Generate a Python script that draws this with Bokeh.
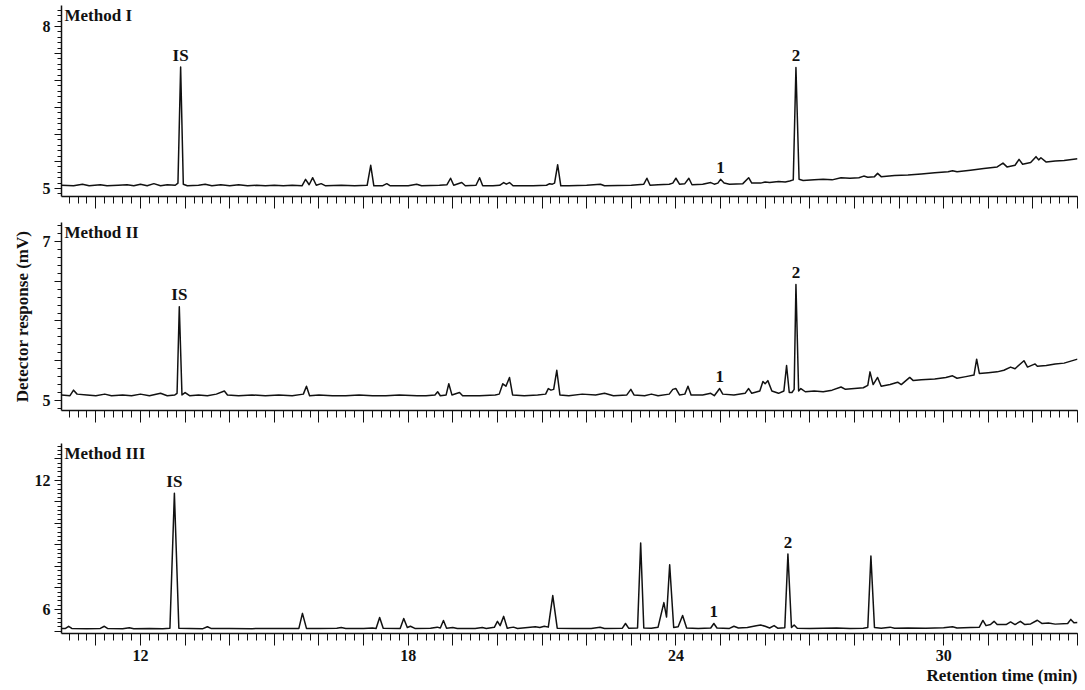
import math
import numpy as np
from bokeh.plotting import figure
from bokeh.layouts import column
from bokeh.models import Range1d, FixedTicker, Label, ColumnDataSource, Title
from bokeh.core.properties import value
from bokeh.embed import file_html
from bokeh.resources import INLINE

# ---------------- data ----------------
method_names = ["Method I", "Method II", "Method III"]
x_label_ticks = [12, 18, 24, 30]
y_label_ticks = [[5, 8], [5, 7], [6, 12]]
peak_names = ["IS", "1", "2"]
peak_rt_1 = [12.90, 25.00, 26.69]
peak_rt_2 = [12.87, 24.98, 26.69]
peak_rt_3 = [12.76, 24.85, 26.51]

trace_1 = [
    (10.23, 5.06), (10.5, 5.05), (10.7, 5.08), (10.85, 5.05), (11.1, 5.07), (11.25, 5.05),
    (11.5, 5.06), (11.7, 5.07), (11.85, 5.05), (12.0, 5.08), (12.15, 5.05), (12.3, 5.09),
    (12.45, 5.05), (12.6, 5.07), (12.78, 5.06), (12.84, 5.10), (12.90, 7.25), (12.96, 5.08),
    (13.05, 5.05), (13.3, 5.06), (13.45, 5.08), (13.6, 5.05), (13.8, 5.07), (14.0, 5.05),
    (14.2, 5.07), (14.4, 5.05), (14.6, 5.06), (14.8, 5.05), (15.0, 5.06), (15.2, 5.05),
    (15.4, 5.06), (15.62, 5.05), (15.70, 5.17), (15.78, 5.07), (15.86, 5.20), (15.94, 5.06),
    (16.05, 5.09), (16.15, 5.05), (16.5, 5.06), (16.8, 5.05), (17.08, 5.06), (17.16, 5.43),
    (17.23, 5.05), (17.42, 5.05), (17.52, 5.09), (17.6, 5.05), (18.0, 5.05), (18.19, 5.08),
    (18.3, 5.05), (18.7, 5.06), (18.87, 5.07), (18.95, 5.19), (19.02, 5.06), (19.20, 5.11),
    (19.28, 5.05), (19.52, 5.06), (19.60, 5.20), (19.67, 5.05), (19.9, 5.05), (20.05, 5.06),
    (20.14, 5.11), (20.20, 5.08), (20.27, 5.11), (20.35, 5.05), (20.8, 5.05), (21.1, 5.06),
    (21.17, 5.09), (21.23, 5.08), (21.28, 5.10), (21.35, 5.44), (21.42, 5.05), (21.6, 5.05),
    (22.0, 5.06), (22.31, 5.08), (22.4, 5.05), (23.0, 5.06), (23.28, 5.08), (23.35, 5.19),
    (23.42, 5.06), (23.6, 5.07), (23.85, 5.08), (23.93, 5.10), (24.0, 5.19), (24.08, 5.08),
    (24.2, 5.09), (24.29, 5.19), (24.36, 5.07), (24.6, 5.08), (24.78, 5.11), (24.86, 5.08),
    (24.94, 5.10), (25.0, 5.17), (25.08, 5.10), (25.2, 5.08), (25.5, 5.09), (25.63, 5.20),
    (25.7, 5.10), (25.9, 5.10), (26.0, 5.12), (26.1, 5.11), (26.3, 5.13), (26.45, 5.12),
    (26.55, 5.14), (26.63, 5.16), (26.69, 7.24), (26.76, 5.17), (26.85, 5.15), (27.1, 5.16),
    (27.3, 5.17), (27.5, 5.16), (27.7, 5.20), (27.9, 5.19), (28.1, 5.20), (28.21, 5.23),
    (28.3, 5.21), (28.45, 5.22), (28.52, 5.28), (28.6, 5.22), (28.9, 5.24), (29.2, 5.25),
    (29.5, 5.27), (29.8, 5.29), (30.1, 5.31), (30.2, 5.33), (30.3, 5.31), (30.6, 5.34),
    (30.9, 5.37), (31.2, 5.40), (31.33, 5.47), (31.42, 5.40), (31.6, 5.43), (31.69, 5.54),
    (31.77, 5.45), (31.95, 5.48), (32.07, 5.59), (32.13, 5.53), (32.18, 5.57), (32.3, 5.49),
    (32.5, 5.51), (32.7, 5.52), (33.0, 5.55),
]

trace_2 = [
    (10.23, 5.07), (10.42, 5.06), (10.50, 5.13), (10.58, 5.08), (10.8, 5.07), (11.0, 5.06),
    (11.2, 5.08), (11.35, 5.06), (11.6, 5.07), (11.8, 5.06), (12.0, 5.08), (12.2, 5.06),
    (12.45, 5.09), (12.6, 5.06), (12.77, 5.07), (12.82, 5.09), (12.87, 6.18), (12.93, 5.07),
    (13.0, 5.10), (13.1, 5.06), (13.3, 5.07), (13.5, 5.06), (13.7, 5.08), (13.88, 5.12),
    (13.95, 5.07), (14.2, 5.06), (14.5, 5.07), (14.8, 5.06), (15.1, 5.07), (15.4, 5.06),
    (15.65, 5.08), (15.72, 5.18), (15.79, 5.06), (16.0, 5.07), (16.3, 5.06), (16.6, 5.06),
    (16.9, 5.07), (17.2, 5.06), (17.5, 5.06), (17.8, 5.07), (18.2, 5.06), (18.4, 5.06),
    (18.6, 5.07), (18.66, 5.11), (18.72, 5.06), (18.85, 5.07), (18.91, 5.21), (18.98, 5.07),
    (19.15, 5.10), (19.22, 5.06), (19.6, 5.06), (19.95, 5.07), (20.04, 5.08), (20.12, 5.21),
    (20.19, 5.18), (20.27, 5.29), (20.34, 5.07), (20.6, 5.06), (20.9, 5.07), (21.08, 5.08),
    (21.14, 5.15), (21.20, 5.13), (21.26, 5.14), (21.33, 5.38), (21.40, 5.07), (21.6, 5.06),
    (21.9, 5.08), (22.2, 5.07), (22.4, 5.09), (22.6, 5.06), (22.9, 5.07), (22.99, 5.14),
    (23.06, 5.07), (23.3, 5.06), (23.45, 5.08), (23.6, 5.06), (23.85, 5.08), (23.93, 5.14),
    (24.0, 5.15), (24.08, 5.07), (24.2, 5.08), (24.27, 5.18), (24.34, 5.07), (24.6, 5.07),
    (24.78, 5.09), (24.86, 5.06), (24.98, 5.15), (25.05, 5.08), (25.3, 5.07), (25.55, 5.09),
    (25.63, 5.15), (25.70, 5.09), (25.88, 5.12), (25.95, 5.24), (26.0, 5.21), (26.06, 5.25),
    (26.15, 5.12), (26.3, 5.09), (26.42, 5.12), (26.48, 5.44), (26.54, 5.10), (26.60, 5.10),
    (26.65, 5.14), (26.69, 6.46), (26.75, 5.12), (26.80, 5.15), (26.9, 5.11), (27.1, 5.12),
    (27.3, 5.11), (27.5, 5.13), (27.7, 5.17), (27.8, 5.14), (28.0, 5.15), (28.2, 5.16),
    (28.3, 5.19), (28.35, 5.36), (28.42, 5.20), (28.52, 5.29), (28.6, 5.18), (28.8, 5.20),
    (28.97, 5.23), (29.05, 5.20), (29.24, 5.29), (29.32, 5.25), (29.5, 5.26), (29.8, 5.27),
    (30.05, 5.29), (30.2, 5.31), (30.3, 5.28), (30.5, 5.30), (30.68, 5.32), (30.74, 5.52),
    (30.80, 5.34), (31.0, 5.35), (31.2, 5.36), (31.35, 5.38), (31.5, 5.42), (31.6, 5.40),
    (31.8, 5.50), (31.88, 5.42), (32.05, 5.46), (32.1, 5.43), (32.3, 5.44), (32.5, 5.46),
    (32.7, 5.47), (33.0, 5.52),
]

trace_3 = [
    (10.23, 5.12), (10.32, 5.12), (10.39, 5.22), (10.46, 5.12), (10.8, 5.11), (11.1, 5.12),
    (11.19, 5.22), (11.26, 5.12), (11.6, 5.11), (11.75, 5.15), (11.85, 5.11), (12.2, 5.12),
    (12.5, 5.11), (12.66, 5.13), (12.76, 11.41), (12.86, 5.13), (13.1, 5.12), (13.4, 5.11),
    (13.5, 5.20), (13.58, 5.12), (14.0, 5.12), (14.5, 5.11), (15.0, 5.12), (15.55, 5.12),
    (15.63, 5.82), (15.72, 5.12), (16.0, 5.12), (16.4, 5.13), (16.5, 5.16), (16.6, 5.12),
    (17.0, 5.12), (17.2, 5.14), (17.28, 5.12), (17.36, 5.63), (17.44, 5.13), (17.82, 5.12),
    (17.90, 5.58), (17.98, 5.16), (18.05, 5.22), (18.15, 5.12), (18.5, 5.13), (18.65, 5.18),
    (18.72, 5.14), (18.79, 5.49), (18.86, 5.13), (19.0, 5.16), (19.1, 5.12), (19.5, 5.12),
    (19.66, 5.16), (19.75, 5.12), (19.93, 5.17), (20.0, 5.45), (20.06, 5.25), (20.14, 5.68),
    (20.22, 5.13), (20.36, 5.18), (20.45, 5.12), (20.85, 5.20), (20.95, 5.16), (21.05, 5.22),
    (21.14, 5.18), (21.24, 6.65), (21.34, 5.13), (21.7, 5.12), (22.1, 5.12), (22.3, 5.17),
    (22.4, 5.12), (22.8, 5.13), (22.87, 5.35), (22.94, 5.13), (23.14, 5.14), (23.21, 9.09),
    (23.28, 5.14), (23.45, 5.13), (23.6, 5.18), (23.73, 6.32), (23.79, 5.65), (23.86, 8.08),
    (23.95, 5.16), (24.05, 5.20), (24.15, 5.72), (24.24, 5.14), (24.5, 5.12), (24.78, 5.14),
    (24.85, 5.35), (24.92, 5.14), (25.2, 5.12), (25.3, 5.22), (25.4, 5.14), (25.6, 5.16),
    (25.8, 5.24), (25.9, 5.28), (26.0, 5.22), (26.1, 5.14), (26.2, 5.25), (26.28, 5.13),
    (26.44, 5.15), (26.51, 8.58), (26.59, 5.16), (26.65, 5.28), (26.72, 5.13), (27.0, 5.12),
    (27.3, 5.13), (27.6, 5.14), (27.9, 5.12), (28.2, 5.13), (28.30, 5.16), (28.37, 8.49),
    (28.45, 5.16), (28.6, 5.13), (28.8, 5.18), (28.9, 5.13), (29.2, 5.14), (29.6, 5.13),
    (30.0, 5.15), (30.2, 5.20), (30.3, 5.14), (30.6, 5.16), (30.8, 5.18), (30.88, 5.49),
    (30.95, 5.25), (31.05, 5.30), (31.13, 5.45), (31.2, 5.30), (31.4, 5.30), (31.5, 5.42),
    (31.6, 5.30), (31.72, 5.45), (31.82, 5.30), (31.95, 5.33), (32.1, 5.50), (32.2, 5.35),
    (32.35, 5.37), (32.5, 5.32), (32.78, 5.35), (32.85, 5.54), (32.92, 5.38), (33.0, 5.40),
]

# ---------------- layout / style ----------------
FONT = "Liberation Serif"
X_START, X_END = 10.23, 33.0
WIDTH = 1081
BORDER_LEFT = 61
BORDER_RIGHT = 4
INK = "#111111"

x_major = list(range(11, 34))
x_minor = [round(0.2 * k, 1) for k in range(52, 166)]


def tick_list(lo, hi, step):
    k0 = math.ceil(lo / step - 1e-9)
    k1 = math.floor(hi / step + 1e-9)
    return [round(k * step, 2) for k in range(k0, k1 + 1)]


def make_panel(trace, peak_rt, name, label_ticks, yr, y_major_step, y_minor_step,
               height, btop, bbot, show_x_labels=False, y_title=None):
    p = figure(width=WIDTH, height=height, x_range=Range1d(X_START, X_END),
               y_range=Range1d(*yr), output_backend="svg", toolbar_location=None,
               min_border_left=BORDER_LEFT, min_border_right=BORDER_RIGHT,
               min_border_top=btop, min_border_bottom=bbot)
    p.outline_line_color = None
    p.grid.visible = False
    p.background_fill_color = "white"
    p.border_fill_color = "white"

    ts = [a for a, b in trace]
    vs = [b for a, b in trace]
    p.line(ts, vs, line_color=INK, line_width=1.5, line_join="round")

    # peak labels, placed above each peak apex
    apex = list(np.interp(peak_rt, ts, vs))
    src = ColumnDataSource(dict(x=peak_rt, y=apex, t=peak_names))
    p.text(x="x", y="y", text="t", source=src, text_font=value(FONT),
           text_font_style="bold", text_font_size="17px", text_align="center",
           text_baseline="middle", y_offset=-12, text_color=INK)

    p.add_layout(Label(x=X_START, y=yr[1], text=name, x_offset=3,
                       text_font=FONT, text_font_style="bold", text_font_size="17px",
                       text_baseline="top", text_align="left", text_color=INK))

    # x axis
    xa = p.xaxis[0]
    xa.ticker = FixedTicker(ticks=x_major, minor_ticks=x_minor)
    xa.axis_line_color = INK
    xa.axis_line_width = 1.5
    xa.major_tick_line_color = INK
    xa.minor_tick_line_color = INK
    xa.major_tick_in = 0
    xa.major_tick_out = 12
    xa.minor_tick_in = 0
    xa.minor_tick_out = 7
    xa.major_label_text_font = FONT
    xa.major_label_text_font_style = "bold"
    xa.major_label_text_color = INK
    if show_x_labels:
        xa.major_label_overrides = {t: (str(t) if t in x_label_ticks else "") for t in x_major}
        xa.major_label_text_font_size = "16px"
        xa.major_label_standoff = 4
    else:
        xa.major_label_overrides = {t: "" for t in x_major}
        xa.major_label_text_font_size = "0px"
        xa.major_label_standoff = 0

    # y axis
    y_major = tick_list(yr[0], yr[1], y_major_step)
    y_minor = tick_list(yr[0], yr[1], y_minor_step)
    ya = p.yaxis[0]
    ya.ticker = FixedTicker(ticks=y_major, minor_ticks=y_minor)
    ya.major_label_overrides = {v: (f"{v:g}" if any(abs(v - l) < 1e-9 for l in label_ticks) else "")
                                for v in y_major}
    ya.axis_line_color = INK
    ya.axis_line_width = 1.5
    ya.major_tick_line_color = INK
    ya.minor_tick_line_color = INK
    ya.major_tick_in = 0
    ya.major_tick_out = 7
    ya.minor_tick_in = 0
    ya.minor_tick_out = 4
    ya.major_label_text_font = FONT
    ya.major_label_text_font_style = "bold"
    ya.major_label_text_font_size = "16px"
    ya.major_label_text_color = INK
    ya.major_label_standoff = 4
    if y_title:
        ya.axis_label = y_title
        ya.axis_label_text_font = FONT
        ya.axis_label_text_font_style = "bold"
        ya.axis_label_text_font_size = "17px"
        ya.axis_label_text_color = INK
        ya.axis_label_standoff = 8
    return p


p1 = make_panel(trace_1, peak_rt_1, method_names[0], y_label_ticks[0], (4.852, 8.389), 0.5, 0.1,
                height=212, btop=5, bbot=16)
p2 = make_panel(trace_2, peak_rt_2, method_names[1], y_label_ticks[1], (4.874, 7.239), 0.5, 0.1,
                height=218, btop=10, bbot=20, y_title="Detector response (mV)")
p3 = make_panel(trace_3, peak_rt_3, method_names[2], y_label_ticks[2], (4.884, 13.72), 1.0, 0.2,
                height=259, btop=13, bbot=56, show_x_labels=True)

x_title = Title(text="Retention time (min)", align="right", text_font=FONT,
                text_font_style="bold", text_font_size="17px", text_color=INK,
                standoff=0, offset=0)
p3.add_layout(x_title, "below")

layout = column(p1, p2, p3, spacing=0)
open("out.html", "w").write(file_html(layout, INLINE))
